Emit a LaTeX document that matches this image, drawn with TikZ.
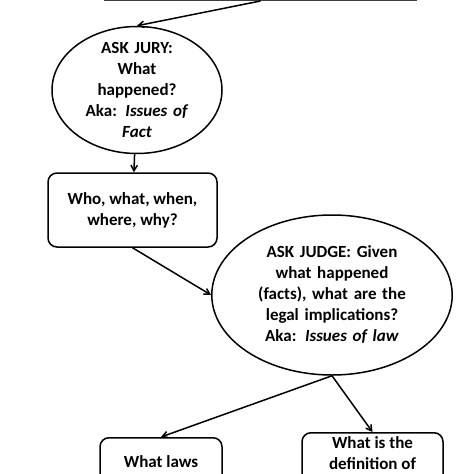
\documentclass[tikz,border=0pt]{standalone}
\usepackage{fontspec}
\setmainfont{Carlito}
\usetikzlibrary{arrows}
\usetikzlibrary{shapes.geometric, positioning}

\begin{document}
\begin{tikzpicture}[x=1pt,y=-1pt,->,>=angle 60,line width=1.5pt,
  ask node/.style={ellipse,draw,align=center,inner xsep=0pt,inner ysep=-20pt,font=\fontsize{17}{21}\selectfont\bfseries},
  q node/.style={rectangle,rounded corners=9pt,draw,align=center,font=\fontsize{17}{21}\selectfont\bfseries}]

  \useasboundingbox (0,0) rectangle (474,474);
  \clip (0,0) rectangle (474,474);

  \node[draw=black!75,line width=2.5pt,minimum width=311pt,minimum height=40pt,anchor=south] (top) at (260.5,1) {};
  \node[ask node,minimum width=170pt,minimum height=127pt,text width=120pt] (jury) at (137,90)
    {ASK JURY:\\ What\\ happened?\\ Aka: \textit{Issues of}\\ \textit{Fact}};
  \node[q node,minimum width=169pt,minimum height=74pt] (who) at (132.5,210)
    {Who, what, when,\\ where, why?};
  \node[ask node,minimum width=232pt,minimum height=160pt,text width=170pt] (judge) at (332,295)
    {ASK JUDGE: Given\\ what happened\\ (facts), what are the\\ legal implications?\\ Aka: \textit{Issues of law}};
  \node[q node,anchor=north,minimum width=122pt,inner ysep=18pt,text depth=60pt] (laws) at (161,437)
    {What laws};
  \node[q node,anchor=north,minimum width=141pt,inner ysep=4pt,text depth=60pt] (defn) at (372.5,432)
    {What is the\\ definition of};

  \path
       (top.south) edge (jury.north)
       (jury) edge (who)
       (who.south) edge (judge.west)
       (judge.south) edge (laws.north)
       (judge.south) edge (defn.north);
\end{tikzpicture}
\end{document}
